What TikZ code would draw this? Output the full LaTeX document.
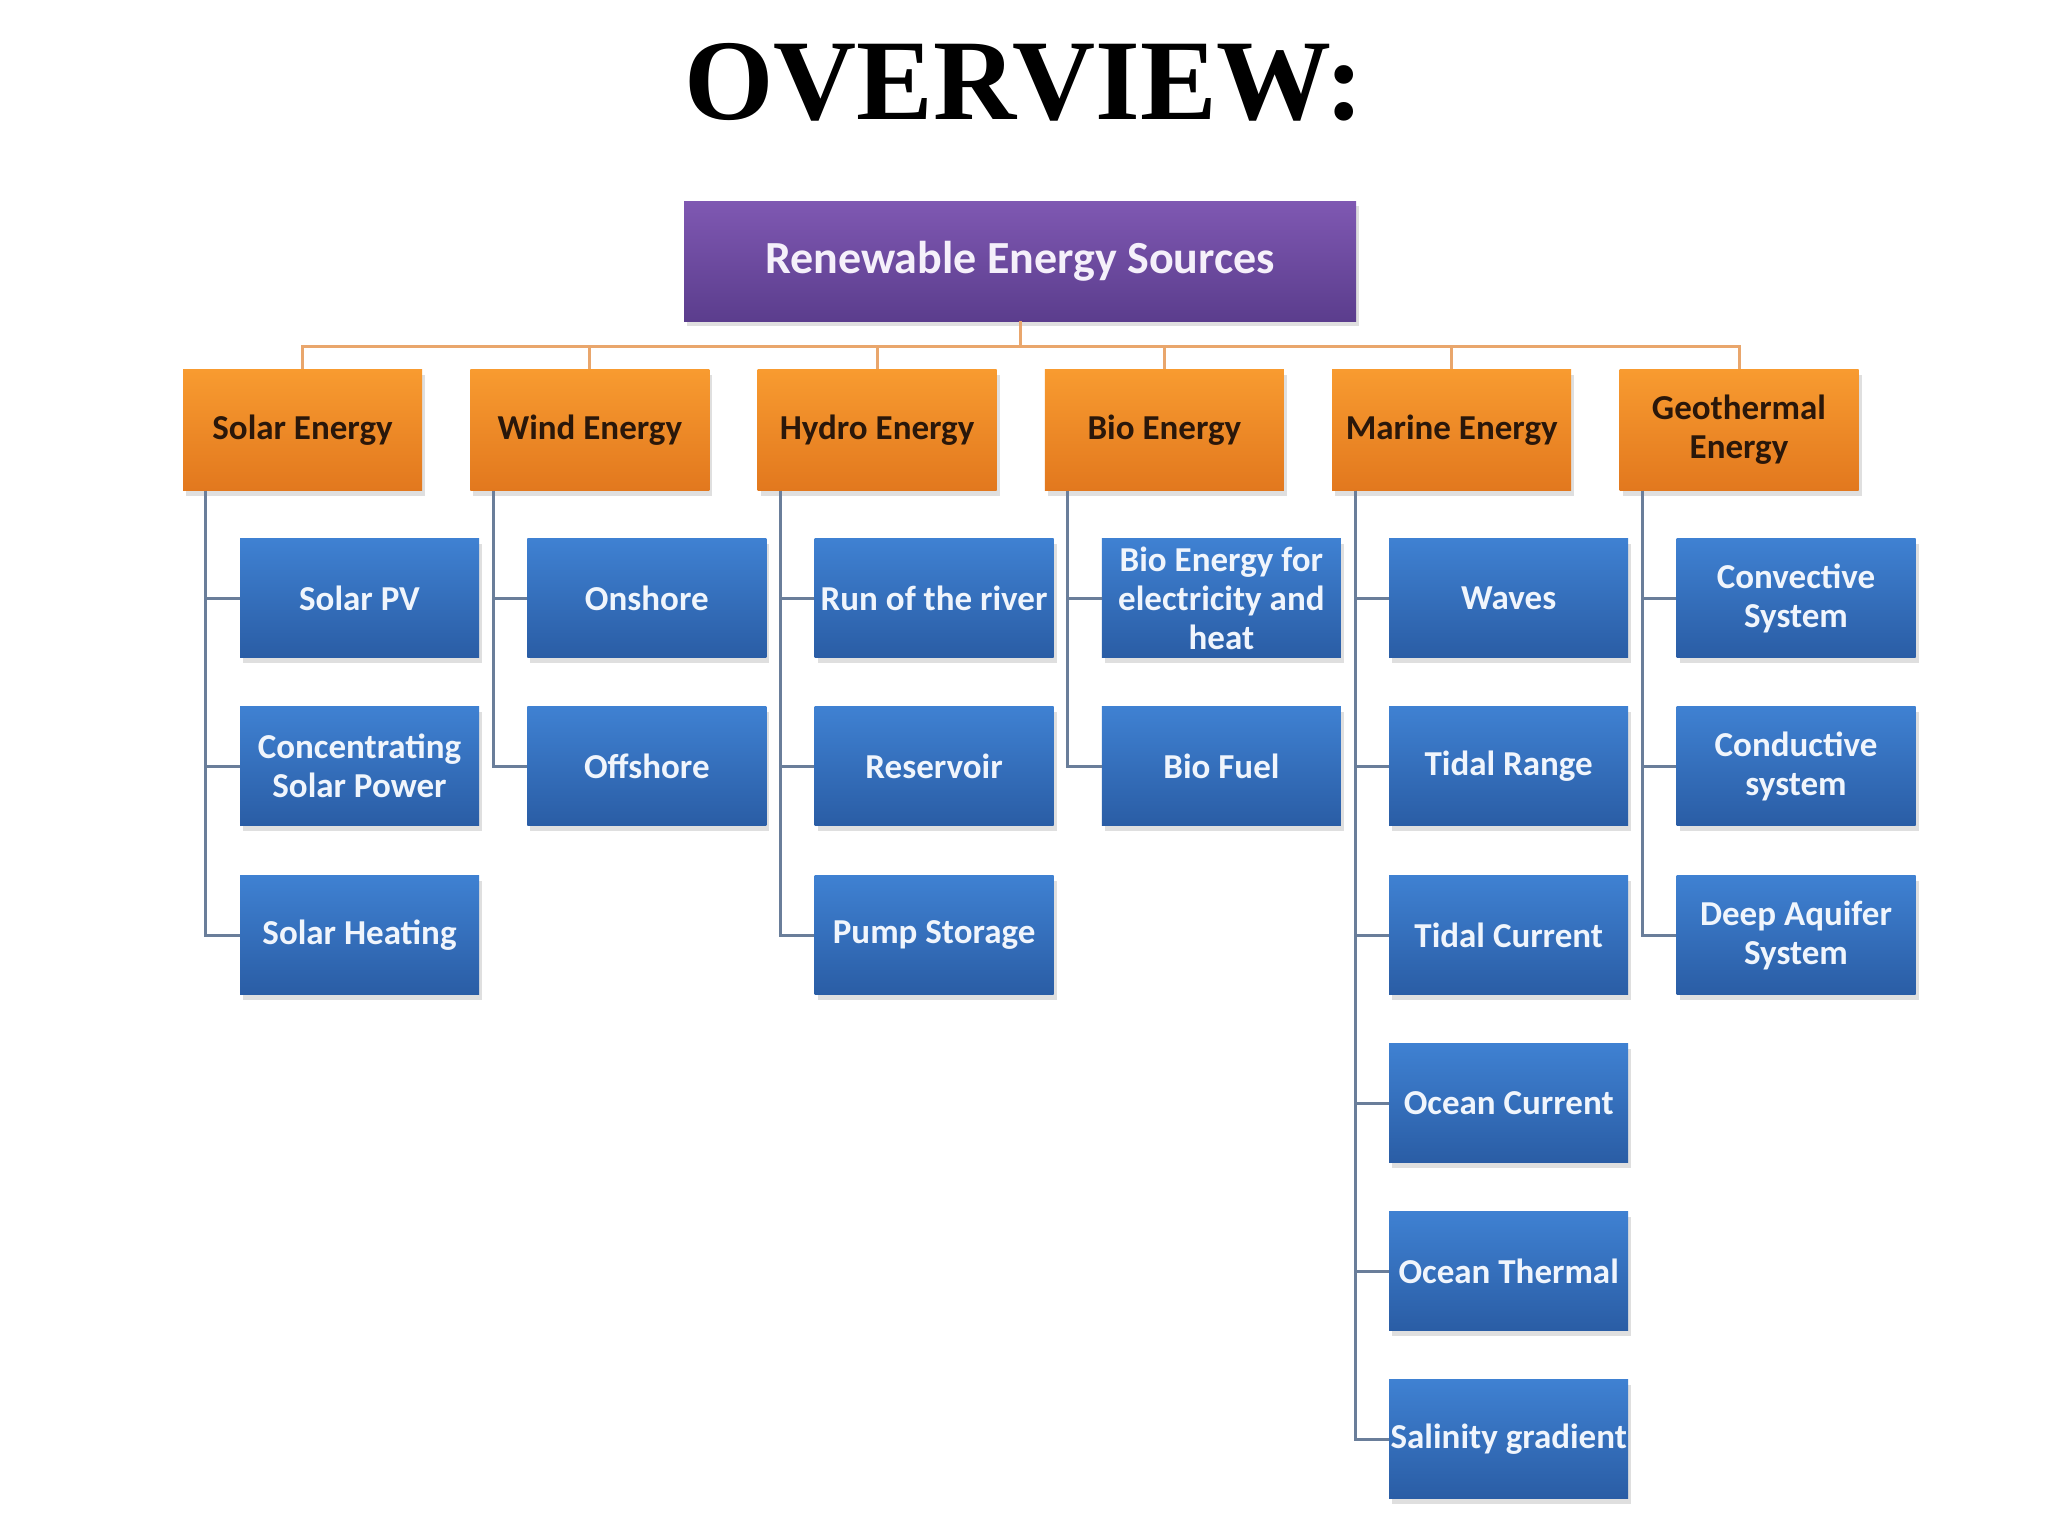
\documentclass[tikz,border=0pt]{standalone}
\usepackage{fontspec}
\setmainfont{Carlito}
\newfontfamily\titlefont{Liberation Serif}
\usetikzlibrary{shadows}
\definecolor{orTop}{HTML}{F89B30}
\definecolor{orBot}{HTML}{E2781E}
\definecolor{blTop}{HTML}{3F81D2}
\definecolor{blBot}{HTML}{2A5DA5}
\definecolor{puTop}{HTML}{7F58B2}
\definecolor{puBot}{HTML}{5B3D8D}
\definecolor{busline}{HTML}{E9A66C}
\definecolor{spine}{HTML}{6A7E9A}
\definecolor{cattext}{HTML}{2A170A}
\definecolor{chtext}{HTML}{F0F5FC}
\definecolor{roottext}{HTML}{F5F0FA}
\tikzset{
  boxshadow/.style={drop shadow={shadow xshift=3pt,shadow yshift=-5pt,opacity=0.25,fill=black!50}},
  rootbox/.style={boxshadow,top color=puTop,bottom color=puBot,minimum width=672pt,minimum height=120pt,inner sep=0pt,
     text=roottext,font=\fontsize{46}{52}\selectfont\bfseries},
  catbox/.style={boxshadow,top color=orTop,bottom color=orBot,minimum width=239pt,minimum height=121pt,inner sep=0pt,
     align=center,text=cattext,font=\fontsize{35}{39}\selectfont\bfseries},
  childbox/.style={boxshadow,top color=blTop,bottom color=blBot,minimum width=239pt,minimum height=119pt,inner sep=0pt,
     align=center,text=chtext,font=\fontsize{35}{39}\selectfont\bfseries},
  busstyle/.style={draw=busline,line width=3pt},
  spinestyle/.style={draw=spine,line width=3pt},
}
\begin{document}
\begin{tikzpicture}[x=1pt,y=-1pt]
\useasboundingbox[fill=white] (0,0) rectangle (2048,1536);
\node[font=\titlefont\fontsize{115}{120}\selectfont\bfseries] (title) at (1024,82) {OVERVIEW:};
\node[rootbox] (root) at (1020,261) {Renewable Energy Sources};
% categories
\node[catbox] (s) at (302.5,430) {Solar Energy};
\node[catbox] (w) at (589.8,430) {Wind Energy};
\node[catbox] (h) at (877.1,430) {Hydro Energy};
\node[catbox] (b) at (1164.4,430) {Bio Energy};
\node[catbox] (m) at (1451.7,430) {Marine Energy};
\node[catbox] (g) at (1739,430) {Geothermal\\Energy};
% children
\node[childbox] (s1) at (359.5,598) {Solar PV};
\node[childbox] (s2) at (359.5,766) {Concentrating\\Solar Power};
\node[childbox] (s3) at (359.5,935) {Solar Heating};
\node[childbox] (w1) at (646.8,598) {Onshore};
\node[childbox] (w2) at (646.8,766) {Offshore};
\node[childbox] (h1) at (934.1,598) {Run of the river};
\node[childbox] (h2) at (934.1,766) {Reservoir};
\node[childbox] (h3) at (934.1,935) {Pump Storage};
\node[childbox] (b1) at (1221.4,598) {Bio Energy for\\electricity and\\heat};
\node[childbox] (b2) at (1221.4,766) {Bio Fuel};
\node[childbox] (m1) at (1508.7,598) {Waves};
\node[childbox] (m2) at (1508.7,766) {Tidal Range};
\node[childbox] (m3) at (1508.7,935) {Tidal Current};
\node[childbox] (m4) at (1508.7,1103) {Ocean Current};
\node[childbox] (m5) at (1508.7,1271) {Ocean Thermal};
\node[childbox] (m6) at (1508.7,1439) {Salinity gradient};
\node[childbox] (g1) at (1796,598) {Convective\\System};
\node[childbox] (g2) at (1796,766) {Conductive\\system};
\node[childbox] (g3) at (1796,935) {Deep Aquifer\\System};
% connectors
\coordinate (bus) at (1020,346);
\draw[busstyle] (root.south) -- (bus);
\foreach \c in {s,w,h,b,m,g}{\draw[busstyle] (\c.north) |- (bus);}
\foreach \c/\k in {s/s1,s/s2,s/s3,w/w1,w/w2,h/h1,h/h2,h/h3,b/b1,b/b2,m/m1,m/m2,m/m3,m/m4,m/m5,m/m6,g/g1,g/g2,g/g3}{
  \draw[spinestyle] ([xshift=23pt]\c.south west) |- (\k.west);}
\end{tikzpicture}
\end{document}
